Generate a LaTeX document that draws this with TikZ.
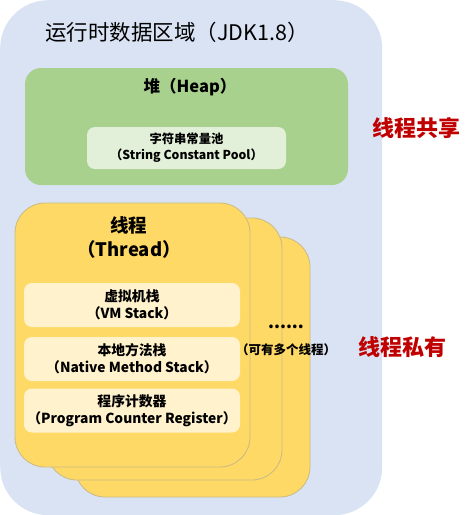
\documentclass[tikz,border=0pt]{standalone}
\usepackage{fontspec}
\setmainfont{Noto Sans CJK SC}
\definecolor{areablue}{HTML}{DAE3F3}
\definecolor{heapgreen}{HTML}{A9D18E}
\definecolor{poolgreen}{HTML}{E2F0D9}
\definecolor{threadyellow}{HTML}{FFD966}
\definecolor{threadline}{RGB}{200,186,132}
\definecolor{stackcream}{HTML}{FFF2CC}
\definecolor{labelred}{HTML}{C00000}

\begin{document}
\begin{tikzpicture}[x=1pt,y=-1pt,every node/.style={inner sep=0pt},
    area/.style={fill=areablue,rounded corners=48pt,minimum width=382pt,minimum height=515pt},
    heapbox/.style={fill=heapgreen,rounded corners=16pt,minimum width=323pt,minimum height=117pt},
    poolbox/.style={fill=poolgreen,rounded corners=8pt,minimum width=199pt,minimum height=42pt,
      align=center,font=\fontsize{12.3}{16}\selectfont\bfseries},
    threadcard/.style={fill=threadyellow,draw=threadline,line width=0.8pt,rounded corners=30pt,
      minimum width=235pt},
    stackbox/.style={fill=stackcream,rounded corners=8pt,minimum width=216pt,minimum height=44pt,
      align=center,font=\fontsize{13.8}{17}\selectfont\bfseries},
    sidelabel/.style={text=labelred,font=\fontsize{22}{26}\selectfont\bfseries}]
    \useasboundingbox (0,0) rectangle (474,515);
    % runtime data area
    \node[area,anchor=north west] (area) at (0,0) {};
    \node[font=\fontsize{21.5}{26}\selectfont] (areatitle) at (177,32) {运行时数据区域（JDK1.8）};
    % heap, shared by all threads
    \node[heapbox] (heap) at (186.5,126.5) {};
    \node[font=\fontsize{16.5}{20}\selectfont\bfseries] (heaptitle) at (190,87) {堆（Heap）};
    \node[poolbox] (pool) at (186.5,148) {字符串常量池\\（String Constant Pool）};
    \node[sidelabel] (shared) at (416,128) {线程共享};
    % stack of thread cards, back to front
    \foreach \i/\cx/\cy/\h in {3/192.5/367/260,2/164.5/349/262,1/132.5/335/264}
      \node[threadcard,minimum height=\h pt] (thread\i) at (\cx,\cy) {};
    \node[align=center,font=\fontsize{18.5}{24}\selectfont\bfseries] (threadtitle) at (129,237)
      {线程\\（Thread）};
    % per-thread areas
    \node[stackbox] (vmstack) at (132,305) {虚拟机栈\\（VM Stack）};
    \node[stackbox] (nativestack) at (132,359) {本地方法栈\\（Native Method Stack）};
    \node[stackbox] (pcreg) at (132,410.5) {程序计数器\\（Program Counter Register）};
    % more threads
    \node[font=\fontsize{17}{18}\selectfont\bfseries] (dots) at (286,327) {......};
    \node[font=\fontsize{12.5}{14}\selectfont\bfseries] (more) at (286,350) {（可有多个线程）};
    \node[sidelabel] (private) at (402,347) {线程私有};
  \end{tikzpicture}
\end{document}
